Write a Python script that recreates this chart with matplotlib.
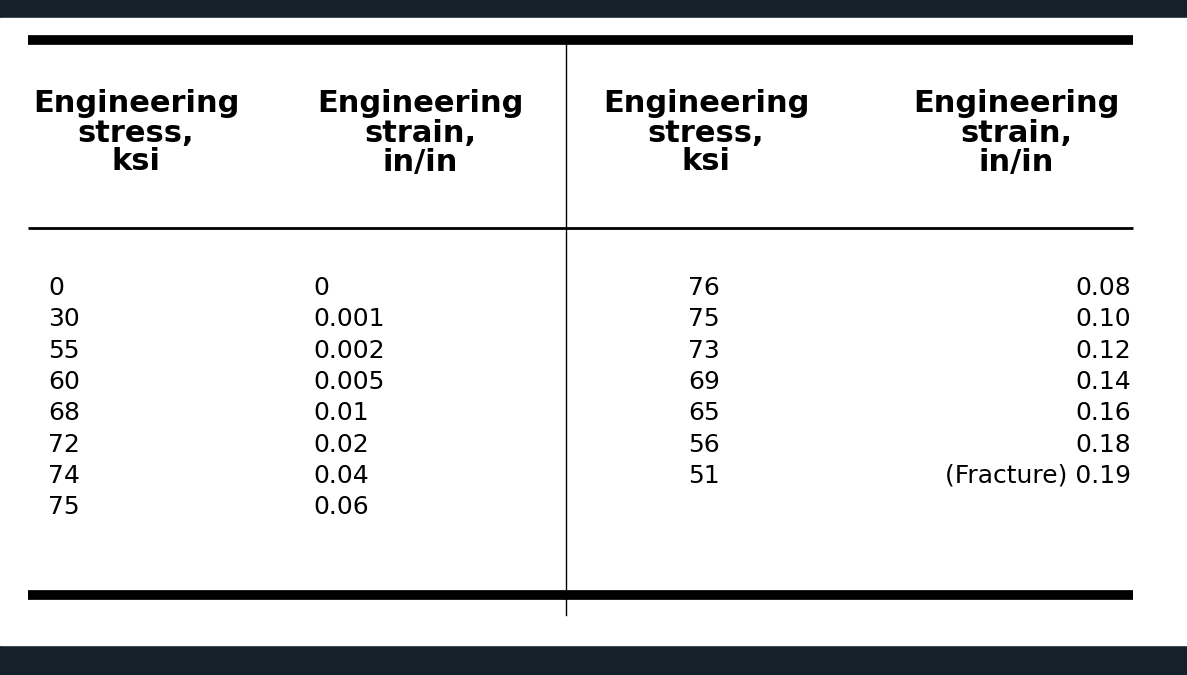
import matplotlib.pyplot as plt

# table data
stress_left = ['0', '30', '55', '60', '68', '72', '74', '75']
strain_left = ['0', '0.001', '0.002', '0.005', '0.01', '0.02', '0.04', '0.06']
stress_right = ['76', '75', '73', '69', '65', '56', '51']
strain_right = ['0.08', '0.10', '0.12', '0.14', '0.16', '0.18', '(Fracture) 0.19']
headers = ['Engineering\nstress,\nksi', 'Engineering\nstrain,\nin/in',
           'Engineering\nstress,\nksi', 'Engineering\nstrain,\nin/in']

fig = plt.figure(figsize=(11.87, 6.75), dpi=100, facecolor='#14202a')
ax = fig.add_axes([0, 0, 1, 1])
ax.set_xlim(0, 1187)
ax.set_ylim(675, 0)
ax.axis('off')

# white page
ax.add_patch(plt.Rectangle((0, 18), 1187, 627, color='white', zorder=0))

# rules
ax.plot([28, 1133], [40, 40], color='black', lw=7, solid_capstyle='butt')
ax.plot([28, 1133], [228, 228], color='black', lw=2, solid_capstyle='butt')
ax.plot([28, 1133], [595, 595], color='black', lw=7, solid_capstyle='butt')
ax.plot([566, 566], [44, 615], color='black', lw=1)

font = 'DejaVu Sans'
hx = [136, 420, 706, 1016]
for x, h in zip(hx, headers):
    ax.text(x, 133, h, ha='center', va='center', fontsize=22, fontweight='heavy',
            family=font, linespacing=1.0)

y0, dy = 288, 31.3
for i, (s, e) in enumerate(zip(stress_left, strain_left)):
    y = y0 + i * dy
    ax.text(48, y, s, ha='left', va='center', fontsize=18, family=font)
    ax.text(313, y, e, ha='left', va='center', fontsize=18, family=font)
for i, (s, e) in enumerate(zip(stress_right, strain_right)):
    y = y0 + i * dy
    ax.text(688, y, s, ha='left', va='center', fontsize=18, family=font)
    ax.text(1131, y, e, ha='right', va='center', fontsize=18, family=font)

fig.savefig('out.png', dpi=100, facecolor=fig.get_facecolor())
